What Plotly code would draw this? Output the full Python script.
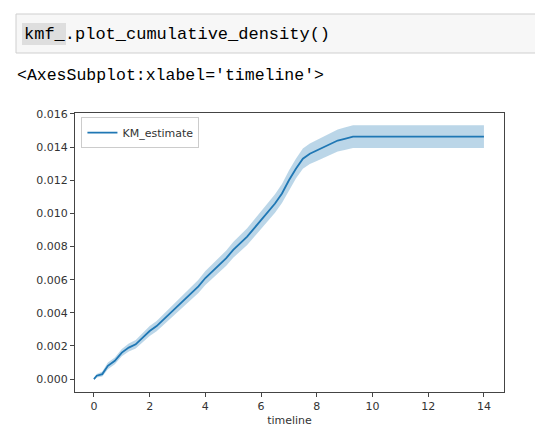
import plotly.graph_objects as go

timeline = [0.0, 0.1, 0.3, 0.5, 0.75, 1.0, 1.25, 1.5, 1.75, 2.0, 2.25, 2.5, 2.75, 3.0, 3.25, 3.5, 3.75,
            4.0, 4.25, 4.5, 4.75, 5.0, 5.25, 5.5, 5.75, 6.0, 6.25, 6.5, 6.75, 7.0, 7.25, 7.5, 7.75,
            8.0, 8.25, 8.5, 8.75, 9.0, 9.3, 10.0, 12.0, 14.0]
km_estimate = [0.0, 0.0002, 0.0003, 0.0008, 0.0011, 0.0016, 0.0019, 0.0021, 0.0025, 0.0029, 0.0032, 0.0036,
               0.0040, 0.0044, 0.0048, 0.0052, 0.0056, 0.0061, 0.0065, 0.0069, 0.0073, 0.0078, 0.0082,
               0.0086, 0.0091, 0.0096, 0.0101, 0.0106, 0.0112, 0.0120, 0.0127, 0.0133, 0.0136, 0.0138,
               0.0140, 0.0142, 0.0144, 0.0145, 0.01463, 0.01463, 0.01463, 0.01463]
ci_half = [0.00005, 0.0001, 0.00015, 0.0002, 0.0002, 0.00022, 0.00024, 0.00026, 0.00028, 0.0003, 0.00031,
           0.00033, 0.00034, 0.00036, 0.00037, 0.00039, 0.0004, 0.00042, 0.00043, 0.00045, 0.00046, 0.00048,
           0.00049, 0.0005, 0.00052, 0.00053, 0.00055, 0.00056, 0.00057, 0.00059, 0.0006, 0.00061, 0.00062,
           0.00063, 0.00064, 0.00065, 0.00066, 0.00068, 0.00069, 0.00069, 0.00069, 0.00069]
upper = [v + h for v, h in zip(km_estimate, ci_half)]
lower = [v - h for v, h in zip(km_estimate, ci_half)]

yticks = [0.000, 0.002, 0.004, 0.006, 0.008, 0.010, 0.012, 0.014, 0.016]
xticks = [0, 2, 4, 6, 8, 10, 12, 14]

blue = "#1f77b4"
fig = go.Figure()
fig.add_trace(go.Scatter(x=timeline, y=upper, mode="lines", line=dict(width=0),
                         showlegend=False, hoverinfo="skip"))
fig.add_trace(go.Scatter(x=timeline, y=lower, mode="lines", line=dict(width=0),
                         fill="tonexty", fillcolor="rgba(31,119,180,0.3)", showlegend=False, hoverinfo="skip"))
fig.add_trace(go.Scatter(x=timeline, y=km_estimate, mode="lines", name="KM_estimate",
                         line=dict(color=blue, width=1.8)))

axis_common = dict(showline=True, linecolor="#444", linewidth=1, mirror=True, ticks="outside",
                   ticklen=4, tickcolor="#444", showgrid=False, zeroline=False,
                   tickfont=dict(family="DejaVu Sans", size=11, color="#333"))
fig.update_xaxes(range=[-0.68, 14.72], tickvals=xticks, ticktext=[str(t) for t in xticks],
                 title=dict(text="timeline", font=dict(family="DejaVu Sans", size=11, color="#333"), standoff=4),
                 **axis_common)
fig.update_yaxes(range=[-0.00078, 0.01606], tickvals=yticks, ticktext=[f"{t:.3f}" for t in yticks],
                 **axis_common)

W, H = 543, 439
L, R, T, B = 67, 47, 105, 55
pw, ph = W - L - R, H - T - B
def px(x): return (x - L) / pw
def py(y): return (H - B - y) / ph

fig.add_shape(type="rect", xref="paper", yref="paper", x0=px(8), x1=px(545), y0=py(6), y1=py(45),
              fillcolor="#f7f7f7", line=dict(color="#cfcfcf", width=1), layer="below")
fig.add_shape(type="rect", xref="paper", yref="paper", x0=px(14), x1=px(58), y0=py(15), y1=py(37),
              fillcolor="#dedede", line=dict(width=0), layer="below")
fig.add_annotation(xref="paper", yref="paper", x=px(14), y=py(26), xanchor="left", yanchor="middle",
                   text="kmf_.plot_cumulative_density()", showarrow=False,
                   font=dict(family="Liberation Mono", size=17, color="#000"))
fig.add_annotation(xref="paper", yref="paper", x=px(7), y=py(67), xanchor="left", yanchor="middle",
                   text="&lt;AxesSubplot:xlabel='timeline'&gt;", showarrow=False,
                   font=dict(family="Liberation Mono", size=16.5, color="#000"))

fig.update_layout(width=W, height=H, margin=dict(l=L, r=R, t=T, b=B), paper_bgcolor="white",
                  plot_bgcolor="white",
                  legend=dict(x=0.015, y=0.985, xanchor="left", yanchor="top", bordercolor="#ccc",
                              borderwidth=1, bgcolor="rgba(255,255,255,0.8)",
                              font=dict(family="DejaVu Sans", size=11, color="#333")))
fig.write_html("out.html")
